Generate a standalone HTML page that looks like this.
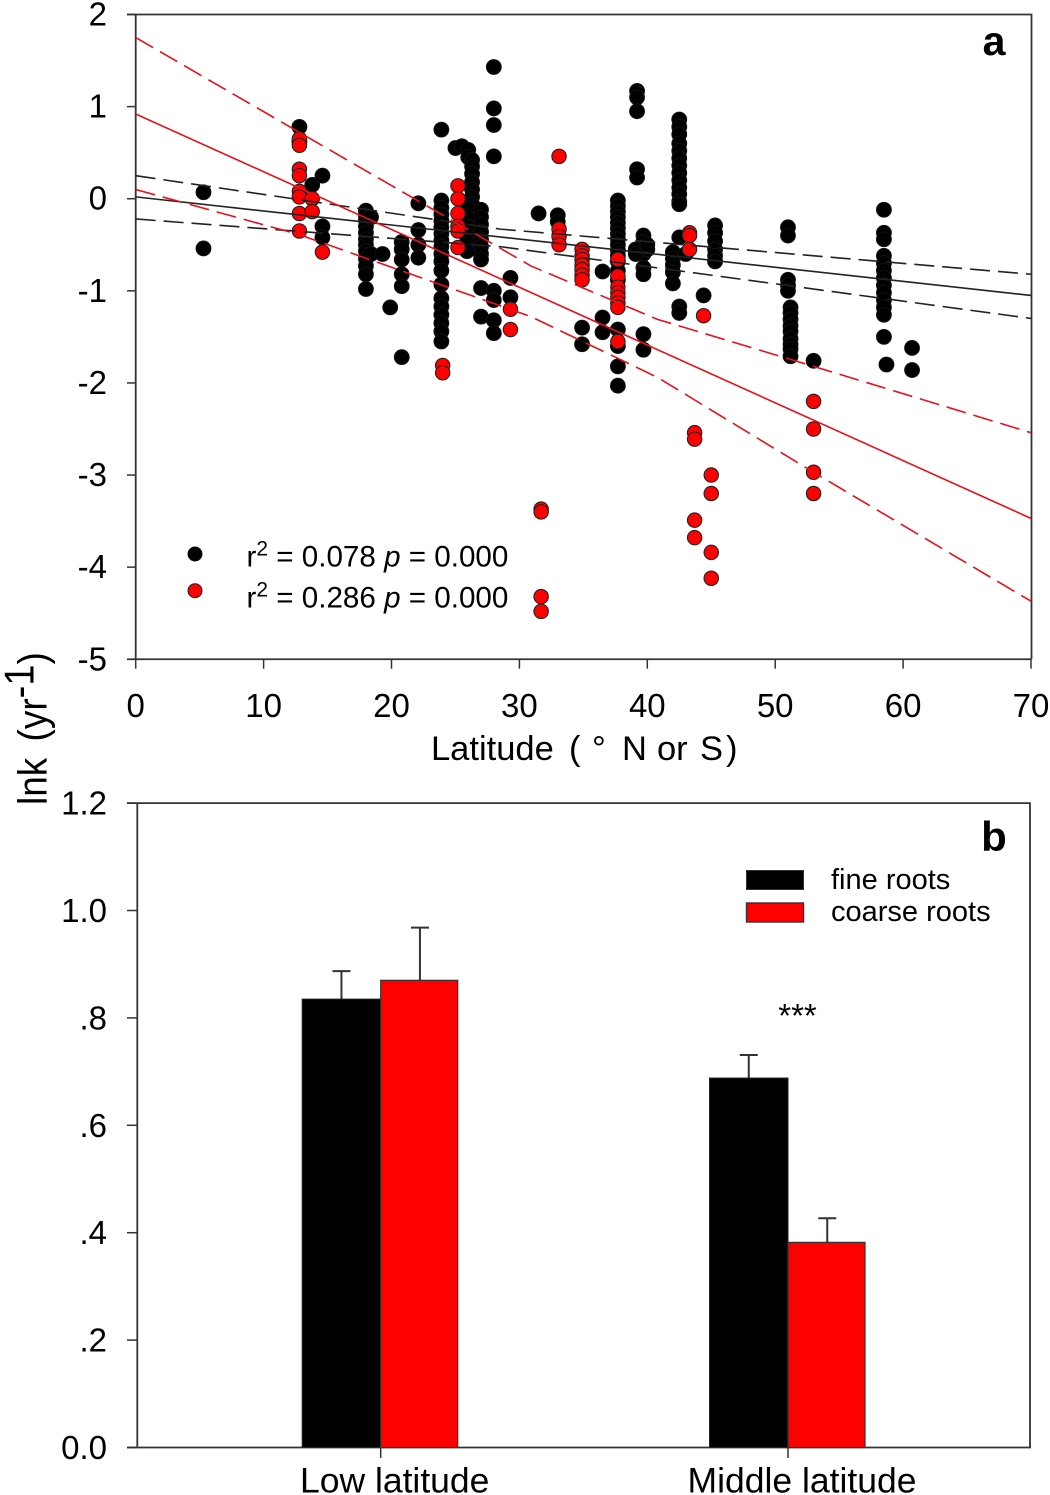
<!DOCTYPE html>
<html lang="en">
<head>
<meta charset="utf-8">
<title>Decomposition rate vs latitude</title>
<style>
html,body{margin:0;padding:0;background:#fff;}
svg{display:block;}
text{font-family:"Liberation Sans",Arial,sans-serif;fill:#000;}
</style>
</head>
<body>
<svg id="fig" xmlns="http://www.w3.org/2000/svg" width="1050" height="1495" viewBox="0 0 1050 1495">
  <g id="panelA"></g>
  <g id="panelB"></g>
  <text transform="translate(46.5,805) rotate(-90) scale(1,1.1)" font-size="37" word-spacing="6">lnk (yr<tspan dy="-12" font-size="38">-1</tspan><tspan dy="12">)</tspan></text>
  <text y="760" font-size="34.5"><tspan x="431">Latitude</tspan><tspan x="569">(</tspan><tspan x="592">°</tspan><tspan x="622">N</tspan><tspan x="657">or</tspan><tspan x="700">S</tspan><tspan x="726">)</tspan></text>
  <text x="994" y="55" font-size="41" font-weight="bold" text-anchor="middle">a</text>
  <text x="994" y="851" font-size="42" font-weight="bold" text-anchor="middle">b</text>
  <g>
    <circle cx="195" cy="554" r="7" fill="#000" stroke="#111" stroke-width="1"/>
    <circle cx="195" cy="590.7" r="7" fill="#f00" stroke="#222" stroke-width="1"/>
    <text x="246.5" y="566.5" font-size="29.6">r<tspan dy="-11" font-size="21">2</tspan><tspan dy="11"> = 0.078 </tspan><tspan font-style="italic">p</tspan> = 0.000</text>
    <text x="246.5" y="607.5" font-size="29.6">r<tspan dy="-11" font-size="21">2</tspan><tspan dy="11"> = 0.286 </tspan><tspan font-style="italic">p</tspan> = 0.000</text>
  </g>
  <g>
    <rect x="746.5" y="870.5" width="57" height="19" fill="#000" stroke="#333" stroke-width="1"/>
    <rect x="746.5" y="903" width="57" height="19" fill="#f00" stroke="#333" stroke-width="1.4"/>
    <text x="831" y="889" font-size="29">fine roots</text>
    <text x="831" y="921" font-size="29">coarse roots</text>
  </g>
  <text x="797.5" y="1027" font-size="33" text-anchor="middle">***</text>
</svg>
<script>
/* ---------- panel a data ---------- */
const xTickValues = [0,10,20,30,40,50,60,70];
const yTickValuesA = [2,1,0,-1,-2,-3,-4,-5];

const fineLat = [5.3,12.8,13.8,14.6,18,18.4,19.3,19.9,20.8,22.1,23.9,25,25.5,26,26.3,25.9,27,28,29.3,31.5,33,34.9,36.5,37.7,39.2,39.7,39.1,40,42,42.5,43,44.4,45.3,51,51.2,53,58.5,58.7,60.7];
const fineLnk = [
  [.07,-.54],
  [.78,.62],
  [.15],
  [.25,-.3,-.42],
  [-.13,-.18,-.23,-.3,-.37,-.44,-.5,-.57,-.65,-.73,-.82,-.98],
  [-.2,-.6],
  [-.6],
  [-1.18],
  [-.47,-.55,-.66,-.82,-.95,-1.72],
  [-.05,-.34,-.5,-.64],
  [.75,-.02,-.1,-.17,-.24,-.31,-.38,-.45,-.52,-.6,-.68,-.78,-.93,-1.08,-1.17,-1.26,-1.35,-1.44,-1.55],
  [.55],
  [.57],
  [.53,.45],
  [.42,.35,.27,.18,.1,.02,-.06,-.14,-.22,-.3,-.38,-.46,-.54],
  [-.1,-.2,-.3,-.4,-.47,-.57],
  [-.12,-.2,-.28,-.36,-.44,-.52,-.6,-.66,-.97,-1.28],
  [1.43,.98,.8,.46,-1,-1.1,-1.32,-1.46],
  [-.86,-1.07],
  [-.16],
  [-.18,-.25],
  [-1.4,-1.58],
  [-.79,-1.29,-1.45],
  [-.02,-.08,-.14,-.2,-.26,-.32,-.38,-.44,-.5,-.56,-.62,-.68,-.78,-.88,-1.42,-1.6,-1.82,-2.03],
  [1.17,1.1,.95,.32,.23],
  [-.4,-.47,-.6,-.75,-.82,-1.47,-1.64],
  [-.55,-.6],
  [-.55,-.5],
  [-.58,-.65,-.72,-.8,-.92],
  [.86,.78,.7,.6,.52,.44,.36,.28,.2,.12,.05,-.03,-.06,-.42,-1.17,-1.24],
  [-.6],
  [-1.05],
  [-.29,-.37,-.46,-.55,-.62,-.68],
  [-.31,-.4,-.88,-.94,-1],
  [-1.18,-1.24,-1.31,-1.38,-1.44,-1.52,-1.58,-1.63,-1.71],
  [-1.76],
  [-.12,-.37,-.44,-.62,-.7,-.78,-.86,-.94,-1.02,-1.1,-1.18,-1.26,-1.5],
  [-1.8],
  [-1.62,-1.86]
];

const coarseLat = [12.8,13.8,14.6,24,25.2,29.3,31.7,33.1,34.9,37.7,43.3,43.7,44.4,45,53];
const coarseLnk = [
  [.65,.58,.32,.25,.08,.02,-.16,-.35],
  [0,-.14],
  [-.58],
  [-1.81,-1.89],
  [.14,0,-.16,-.3,-.35,-.53],
  [-1.2,-1.42],
  [-3.37,-3.4,-4.32,-4.48],
  [.46,-.33,-.41,-.5],
  [-.55,-.62,-.66,-.72,-.77,-.83,-.88],
  [-.66,-.84,-.96,-1.02,-1.07,-1.13,-1.18,-1.55],
  [-.37,-.4,-.55],
  [-2.54,-2.61,-3.49,-3.68],
  [-1.27],
  [-3,-3.2,-3.84,-4.12],
  [-2.2,-2.5,-2.97,-3.2]
];

const fineFitLat = [0,70];
const fineFitLnk = [.02,-1.05];
const fineCiLat = [0,28.5,70];
const fineCiUpper = [.25,-.33,-.82];
const fineCiLower = [-.22,-.52,-1.3];

const coarseFitLat = [0,70];
const coarseFitLnk = [.92,-3.47];
const coarseCiLat = [0,12.8,30.9,40.8,53,70];
const coarseCiUpper = [1.75,.72,-.73,-1.31,-1.82,-2.54];
const coarseCiLower = [.1,-.39,-1.28,-1.94,-2.97,-4.37];

/* ---------- panel b data ---------- */
const barCategories = ["Low latitude","Middle latitude"];
const fineRootMeans = [.835,.688];
const coarseRootMeans = [.87,.382];
const fineRootErrors = [.052,.043];
const coarseRootErrors = [.098,.045];
const yTickValuesB = [0,.2,.4,.6,.8,1,1.2];
const yTickLabelsB = ["0.0",".2",".4",".6",".8","1.0","1.2"];

/* ---------- axis functions ---------- */
const xA = v => 135.7 + v * 12.79;
const yA = v => 14.5 + (2 - v) * 92.11;
const yB = v => 1447.5 - v * 537;
const catX = i => 380.7 + i * 407.3;

const NS = "http://www.w3.org/2000/svg";
const panelA = document.getElementById("panelA");
const panelB = document.getElementById("panelB");
const AXIS = "#333";
function make(tag, parent, attrs, txt){
  const el = document.createElementNS(NS, tag);
  for (const k in attrs) el.setAttribute(k, attrs[k]);
  if (txt !== undefined) el.textContent = txt;
  parent.appendChild(el);
  return el;
}

/* panel a frame */
const frameA = make("path", panelA, {d:`M127 ${yA(2)}H1031.5V${yA(-5)}M127 ${yA(-5)}H1031.5M${xA(0)} ${yA(2)}V${yA(-5)}`, fill:"none", stroke:AXIS, "stroke-width":1.8});



/* panel a ticks */
xTickValues.forEach(v => {
  const t = make("line", panelA, {x1:xA(v), x2:xA(v), y1:yA(-5), y2:668.7, stroke:AXIS, "stroke-width":1.5});
  
  
  const l = make("text", panelA, {x:xA(v), y:717, "font-size":33, "text-anchor":"middle"}, String(v));
  
  
});
yTickValuesA.forEach(v => {
  const t = make("line", panelA, {x1:127, x2:xA(0), y1:yA(v), y2:yA(v), stroke:AXIS, "stroke-width":1.5});
  
  
  const l = make("text", panelA, {x:107, y:yA(v) + 11, "font-size":33, "text-anchor":"end"}, String(v));
  
  
});

/* panel a points */
fineLat.forEach((lat, i) => {
  fineLnk[i].forEach(v => {
    const c = make("circle", panelA, {cx:xA(lat), cy:yA(v), r:7.4, fill:"#000", stroke:"#111", "stroke-width":1});
    
    
  });
});
coarseLat.forEach((lat, i) => {
  coarseLnk[i].forEach(v => {
    const c = make("circle", panelA, {cx:xA(lat), cy:yA(v), r:7.2, fill:"#f00", stroke:"#222", "stroke-width":1.1});
    
    
  });
});

/* panel a lines */
function linePath(xs, ys){
  return xs.map((x, i) => (i ? "L" : "M") + xA(x) + " " + yA(ys[i])).join("");
}
const dash = "20 8";
const fineUp = make("path", panelA, {d:linePath(fineCiLat, fineCiUpper), fill:"none", stroke:"#222", "stroke-width":1.6, "stroke-dasharray":dash});


const fineLo = make("path", panelA, {d:linePath(fineCiLat, fineCiLower), fill:"none", stroke:"#222", "stroke-width":1.6, "stroke-dasharray":dash});


const fineFit = make("path", panelA, {d:linePath(fineFitLat, fineFitLnk), fill:"none", stroke:"#222", "stroke-width":1.6});


const coarseUp = make("path", panelA, {d:linePath(coarseCiLat, coarseCiUpper), fill:"none", stroke:"#e8101a", "stroke-width":1.6, "stroke-dasharray":dash});


const coarseLo = make("path", panelA, {d:linePath(coarseCiLat, coarseCiLower), fill:"none", stroke:"#e8101a", "stroke-width":1.6, "stroke-dasharray":dash});


const coarseFit = make("path", panelA, {d:linePath(coarseFitLat, coarseFitLnk), fill:"none", stroke:"#e8101a", "stroke-width":1.6});



/* panel b frame */
const frameB = make("path", panelB, {d:`M127 ${yB(1.2)}H1030V${yB(0)}M127 ${yB(0)}H1031M137.3 ${yB(1.2)}V${yB(0)}`, fill:"none", stroke:AXIS, "stroke-width":1.8});



yTickValuesB.forEach((v, i) => {
  const t = make("line", panelB, {x1:127, x2:137.3, y1:yB(v), y2:yB(v), stroke:AXIS, "stroke-width":1.5});
  
  
  const l = make("text", panelB, {x:107, y:yB(v) + 11.5, "font-size":33, "text-anchor":"end"}, yTickLabelsB[i]);
  
  
});

/* panel b bars */
const barW = 78.5;
const capW = 18;
barCategories.forEach((name, i) => {
  const cx = catX(i);
  const fineTop = yB(fineRootMeans[i]);
  const coarseTop = yB(coarseRootMeans[i]);
  const fineErrTop = yB(fineRootMeans[i] + fineRootErrors[i]);
  const coarseErrTop = yB(coarseRootMeans[i] + coarseRootErrors[i]);

  const e1 = make("path", panelB, {d:`M${cx-barW/2} ${fineTop}V${fineErrTop}M${cx-barW/2-capW/2} ${fineErrTop}h${capW}`, fill:"none", stroke:AXIS, "stroke-width":2});
  
  
  const e2 = make("path", panelB, {d:`M${cx+barW/2} ${coarseTop}V${coarseErrTop}M${cx+barW/2-capW/2} ${coarseErrTop}h${capW}`, fill:"none", stroke:AXIS, "stroke-width":2});
  
  

  const b1 = make("rect", panelB, {x:cx-barW, y:fineTop, width:barW, height:yB(0)-fineTop, fill:"#000", stroke:"#222", "stroke-width":1});
  
  
  const b2 = make("rect", panelB, {x:cx, y:coarseTop, width:barW-1.5, height:yB(0)-coarseTop, fill:"#f00", stroke:"#333", "stroke-width":1.2});
  
  

  const t = make("line", panelB, {x1:cx, x2:cx, y1:yB(0), y2:1458, stroke:AXIS, "stroke-width":1.5});
  
  
  const l = make("text", panelB, {x:cx + 14, y:1492.5, "font-size":35.5, "text-anchor":"middle"}, name);
  
  
});
</script>
</body>
</html>
